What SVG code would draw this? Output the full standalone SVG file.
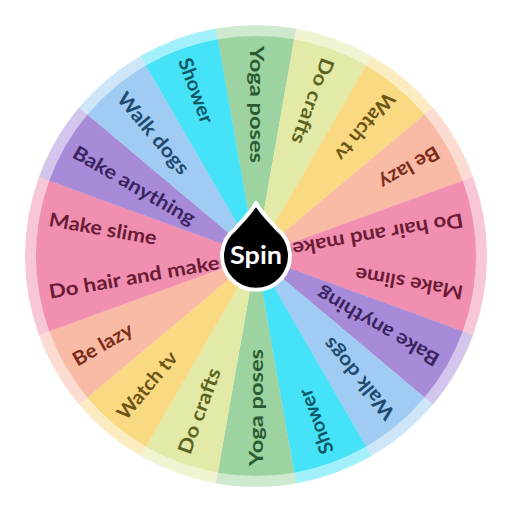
<svg xmlns="http://www.w3.org/2000/svg" xmlns:xlink="http://www.w3.org/1999/xlink" width="512" height="512" viewBox="0 0 512 512">
<style>
.rim{fill-opacity:0.5}
.lbl{font-family:Lato,"Noto Sans","Liberation Sans",sans-serif;font-weight:700;font-size:19.5px}
.spin{font-family:Lato,"Noto Sans","Liberation Sans",sans-serif;font-weight:700;font-size:25px;fill:#fff;text-anchor:middle}
.c0{fill:#9dd3a0}.t0{fill:#2c5a33}
.c1{fill:#e3eaa7}.t1{fill:#5c6322}
.c2{fill:#fad983}.t2{fill:#6b5414}
.c3{fill:#f9baa6}.t3{fill:#7a2c18}
.c4{fill:#f08fb0}.t4{fill:#6b1b35}
.c6{fill:#a78bd8}.t6{fill:#3b2360}
.c7{fill:#a0cbf2}.t7{fill:#1d4a6e}
.c8{fill:#45e2f8}.t8{fill:#0e5866}
</style>
<defs>
<path id="sec" d="M256 256 L472.66 217.80 A220 220 0 0 1 472.66 294.20 Z"/>
<path id="rimsec" d="M256 256 L483.49 215.89 A231 231 0 0 1 483.49 296.11 Z"/>
</defs>
<rect width="512" height="512" fill="#fff"/>
<g id="wheel">
<g id="seg0"><use xlink:href="#rimsec" class="c0 rim" transform="rotate(-90 256 256)"/><use xlink:href="#sec" class="c0" transform="rotate(-90 256 256)"/><text class="lbl t0" x="46" y="262.5" textLength="117" lengthAdjust="spacingAndGlyphs" transform="rotate(90 256 256)">Yoga poses</text></g>
<g id="seg1"><use xlink:href="#rimsec" class="c1 rim" transform="rotate(-70 256 256)"/><use xlink:href="#sec" class="c1" transform="rotate(-70 256 256)"/><text class="lbl t1" x="46" y="262.5" textLength="90" lengthAdjust="spacingAndGlyphs" transform="rotate(110 256 256)">Do crafts</text></g>
<g id="seg2"><use xlink:href="#rimsec" class="c2 rim" transform="rotate(-50 256 256)"/><use xlink:href="#sec" class="c2" transform="rotate(-50 256 256)"/><text class="lbl t2" x="46" y="262.5" textLength="82" lengthAdjust="spacingAndGlyphs" transform="rotate(130 256 256)">Watch tv</text></g>
<g id="seg3"><use xlink:href="#rimsec" class="c3 rim" transform="rotate(-30 256 256)"/><use xlink:href="#sec" class="c3" transform="rotate(-30 256 256)"/><text class="lbl t3" x="46" y="262.5" textLength="66" lengthAdjust="spacingAndGlyphs" transform="rotate(150 256 256)">Be lazy</text></g>
<g id="seg4"><use xlink:href="#rimsec" class="c4 rim" transform="rotate(-10 256 256)"/><use xlink:href="#sec" class="c4" transform="rotate(-10 256 256)"/><text class="lbl t4" x="46" y="262.5" textLength="198" lengthAdjust="spacingAndGlyphs" transform="rotate(170 256 256)">Do hair and makeup</text></g>
<g id="seg5"><use xlink:href="#rimsec" class="c4 rim" transform="rotate(10 256 256)"/><use xlink:href="#sec" class="c4" transform="rotate(10 256 256)"/><text class="lbl t4" x="46" y="262.5" textLength="109" lengthAdjust="spacingAndGlyphs" transform="rotate(190 256 256)">Make slime</text></g>
<g id="seg6"><use xlink:href="#rimsec" class="c6 rim" transform="rotate(30 256 256)"/><use xlink:href="#sec" class="c6" transform="rotate(30 256 256)"/><text class="lbl t6" x="46" y="262.5" textLength="138" lengthAdjust="spacingAndGlyphs" transform="rotate(210 256 256)">Bake anything</text></g>
<g id="seg7"><use xlink:href="#rimsec" class="c7 rim" transform="rotate(50 256 256)"/><use xlink:href="#sec" class="c7" transform="rotate(50 256 256)"/><text class="lbl t7" x="46" y="262.5" textLength="100" lengthAdjust="spacingAndGlyphs" transform="rotate(230 256 256)">Walk dogs</text></g>
<g id="seg8"><use xlink:href="#rimsec" class="c8 rim" transform="rotate(70 256 256)"/><use xlink:href="#sec" class="c8" transform="rotate(70 256 256)"/><text class="lbl t8" x="46" y="262.5" textLength="68" lengthAdjust="spacingAndGlyphs" transform="rotate(250 256 256)">Shower</text></g>
<g id="seg9"><use xlink:href="#rimsec" class="c0 rim" transform="rotate(90 256 256)"/><use xlink:href="#sec" class="c0" transform="rotate(90 256 256)"/><text class="lbl t0" x="46" y="262.5" textLength="117" lengthAdjust="spacingAndGlyphs" transform="rotate(270 256 256)">Yoga poses</text></g>
<g id="seg10"><use xlink:href="#rimsec" class="c1 rim" transform="rotate(110 256 256)"/><use xlink:href="#sec" class="c1" transform="rotate(110 256 256)"/><text class="lbl t1" x="46" y="262.5" textLength="90" lengthAdjust="spacingAndGlyphs" transform="rotate(290 256 256)">Do crafts</text></g>
<g id="seg11"><use xlink:href="#rimsec" class="c2 rim" transform="rotate(130 256 256)"/><use xlink:href="#sec" class="c2" transform="rotate(130 256 256)"/><text class="lbl t2" x="46" y="262.5" textLength="82" lengthAdjust="spacingAndGlyphs" transform="rotate(310 256 256)">Watch tv</text></g>
<g id="seg12"><use xlink:href="#rimsec" class="c3 rim" transform="rotate(150 256 256)"/><use xlink:href="#sec" class="c3" transform="rotate(150 256 256)"/><text class="lbl t3" x="46" y="262.5" textLength="66" lengthAdjust="spacingAndGlyphs" transform="rotate(330 256 256)">Be lazy</text></g>
<g id="seg13"><use xlink:href="#rimsec" class="c4 rim" transform="rotate(170 256 256)"/><use xlink:href="#sec" class="c4" transform="rotate(170 256 256)"/><text class="lbl t4" x="46" y="262.5" textLength="198" lengthAdjust="spacingAndGlyphs" transform="rotate(350 256 256)">Do hair and makeup</text></g>
<g id="seg14"><use xlink:href="#rimsec" class="c4 rim" transform="rotate(190 256 256)"/><use xlink:href="#sec" class="c4" transform="rotate(190 256 256)"/><text class="lbl t4" x="46" y="262.5" textLength="109" lengthAdjust="spacingAndGlyphs" transform="rotate(10 256 256)">Make slime</text></g>
<g id="seg15"><use xlink:href="#rimsec" class="c6 rim" transform="rotate(210 256 256)"/><use xlink:href="#sec" class="c6" transform="rotate(210 256 256)"/><text class="lbl t6" x="46" y="262.5" textLength="138" lengthAdjust="spacingAndGlyphs" transform="rotate(30 256 256)">Bake anything</text></g>
<g id="seg16"><use xlink:href="#rimsec" class="c7 rim" transform="rotate(230 256 256)"/><use xlink:href="#sec" class="c7" transform="rotate(230 256 256)"/><text class="lbl t7" x="46" y="262.5" textLength="100" lengthAdjust="spacingAndGlyphs" transform="rotate(50 256 256)">Walk dogs</text></g>
<g id="seg17"><use xlink:href="#rimsec" class="c8 rim" transform="rotate(250 256 256)"/><use xlink:href="#sec" class="c8" transform="rotate(250 256 256)"/><text class="lbl t8" x="46" y="262.5" textLength="68" lengthAdjust="spacingAndGlyphs" transform="rotate(70 256 256)">Shower</text></g>
</g>
<g id="spin-button">
<path d="M256 203 C260 211 268 219 277 229 A34 34 0 1 1 235 229 C244 219 252 211 256 203 Z" fill="#000" stroke="#fff" stroke-width="4" stroke-linejoin="round"/>
<text class="spin" x="256" y="264" textLength="52" lengthAdjust="spacingAndGlyphs">Spin</text>
</g>
</svg>
